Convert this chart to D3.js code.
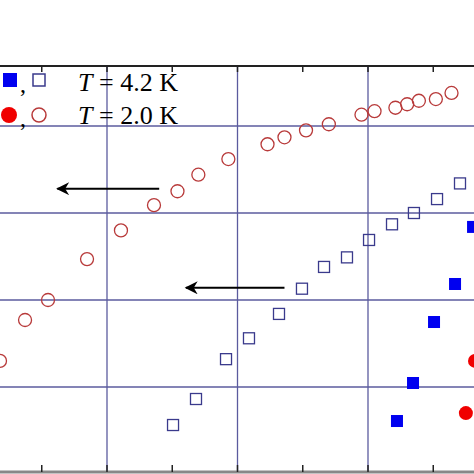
<!DOCTYPE html>
<html><head><meta charset="utf-8">
<script src="https://cdn.jsdelivr.net/npm/d3@7"></script>
<style>body{margin:0;background:#fff}</style>
</head><body>
<script>
// data (x, y in plot units)
const openCircles = [[0.18,1.30],[0.372,1.77],[0.548,2.00],[0.847,2.47],[1.107,2.80],[1.36,3.09],[1.54,3.25],[1.70,3.44],[1.93,3.62],[2.23,3.79],[2.36,3.87],[2.525,3.95],[2.70,4.02],[2.95,4.13],[3.05,4.17],[3.21,4.21],[3.30,4.25],[3.39,4.29],[3.52,4.31],[3.64,4.38]];
const openSquares = [[1.506,0.563],[1.682,0.862],[1.912,1.32],[2.088,1.56],[2.318,1.84],[2.494,2.13],[2.663,2.38],[2.839,2.49],[3.008,2.69],[3.184,2.87],[3.352,3.00],[3.529,3.16],[3.705,3.34]];
const filledSquares = [[3.222,0.609],[3.345,1.046],[3.506,1.747],[3.667,2.184],[3.805,2.84]];
const filledCircles = [[3.75,0.70],[3.82,1.30]];
const arrows = [[1.40,3.28,0.62],[2.36,2.14,1.605]]; // [xFrom, y, xTo]
const legend = ["T = 4.2 K", "T = 2.0 K"];

const W = 474, H = 474;
const svg = d3.select("body").append("svg").attr("width", W).attr("height", H);
const x = d3.scaleLinear().domain([0, 3]).range([-23.5, 368]);
const y = d3.scaleLinear().domain([0, 4]).range([474, 126]);

const defs = svg.append("defs");
defs.append("marker").attr("id", "ah").attr("viewBox", "0 0 10 10")
  .attr("refX", 9).attr("refY", 5).attr("markerWidth", 10).attr("markerHeight", 6.5)
  .attr("orient", "auto").attr("markerUnits", "strokeWidth")
  .append("path").attr("d", "M10,5 L0,0 L3,5 L0,10 Z").attr("fill", "#000");

// grid
const grid = "#5b5b9e";
svg.selectAll(".vg").data([1, 2, 3]).join("line")
  .attr("x1", d => x(d)).attr("x2", d => x(d)).attr("y1", 66).attr("y2", 472)
  .attr("stroke", grid).attr("stroke-width", 1.3);
svg.selectAll(".hg").data([1, 2, 3, 4]).join("line")
  .attr("y1", d => y(d)).attr("y2", d => y(d)).attr("x1", 0).attr("x2", W)
  .attr("stroke", grid).attr("stroke-width", 1.3);

// frame with ticks
svg.append("line").attr("x1", 0).attr("x2", W).attr("y1", 66).attr("y2", 66).attr("stroke", "#222").attr("stroke-width", 2);
svg.append("line").attr("x1", 0).attr("x2", W).attr("y1", 472).attr("y2", 472).attr("stroke", "#888").attr("stroke-width", 3);
const ticks = d3.range(0.5, 3.75, 0.5);
svg.selectAll(".tt").data(ticks).join("line")
  .attr("x1", d => x(d)).attr("x2", d => x(d)).attr("y1", 66).attr("y2", 72)
  .attr("stroke", "#222").attr("stroke-width", 1.5);
svg.selectAll(".bt").data(ticks).join("line")
  .attr("x1", d => x(d)).attr("x2", d => x(d)).attr("y1", 465).attr("y2", 472)
  .attr("stroke", "#222").attr("stroke-width", 1.5);

// arrows
svg.selectAll(".ar").data(arrows).join("line")
  .attr("x1", d => x(d[0])).attr("x2", d => x(d[2])).attr("y1", d => y(d[1])).attr("y2", d => y(d[1]))
  .attr("stroke", "#000").attr("stroke-width", 2).attr("marker-end", "url(#ah)");

// points
svg.selectAll(".oc").data(openCircles).join("circle")
  .attr("cx", d => x(d[0])).attr("cy", d => y(d[1])).attr("r", 6.5)
  .attr("fill", "none").attr("stroke", "#b83a3a").attr("stroke-width", 1.3);
svg.selectAll(".os").data(openSquares).join("rect")
  .attr("x", d => x(d[0]) - 5.5).attr("y", d => y(d[1]) - 5.5).attr("width", 11).attr("height", 11)
  .attr("fill", "none").attr("stroke", "#3a3a8c").attr("stroke-width", 1.3);
svg.selectAll(".fs").data(filledSquares).join("rect")
  .attr("x", d => x(d[0]) - 6).attr("y", d => y(d[1]) - 6).attr("width", 12).attr("height", 12)
  .attr("fill", "#0000f0");
svg.selectAll(".fc").data(filledCircles).join("circle")
  .attr("cx", d => x(d[0])).attr("cy", d => y(d[1])).attr("r", 7)
  .attr("fill", "#f00000");

// legend
const lg = svg.append("g");
lg.append("rect").attr("x", 3).attr("y", 73).attr("width", 14).attr("height", 14).attr("fill", "#0000f0");
lg.append("rect").attr("x", 33).attr("y", 74).attr("width", 12).attr("height", 12).attr("fill", "none").attr("stroke", "#3a3a8c").attr("stroke-width", 1.5);
lg.append("circle").attr("cx", 9).attr("cy", 115).attr("r", 8).attr("fill", "#f00000");
lg.append("circle").attr("cx", 39).attr("cy", 115).attr("r", 7).attr("fill", "none").attr("stroke", "#b83a3a").attr("stroke-width", 1.5);
lg.selectAll(".cm").data([92, 126]).join("text").attr("x", 20).attr("y", d => d)
  .attr("font-family", "Liberation Serif").attr("font-size", 24).text(",");
lg.selectAll(".lt").data(legend).join("text")
  .attr("x", 78).attr("y", (d, i) => 91 + i * 33)
  .attr("font-family", "Liberation Serif").attr("font-size", 26)
  .each(function(d) {
    const t = d3.select(this);
    t.append("tspan").attr("font-style", "italic").text(d.slice(0, 1));
    t.append("tspan").text(d.slice(1));
  });
</script>
</body></html>
